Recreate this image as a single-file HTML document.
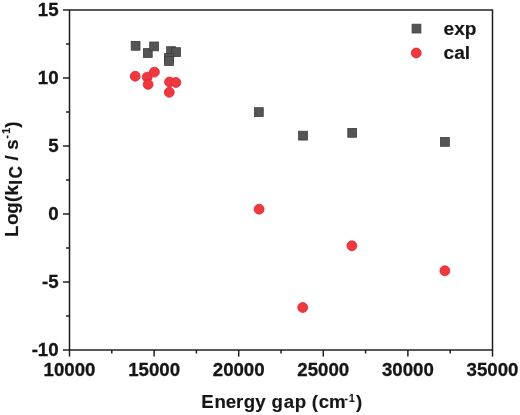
<!DOCTYPE html>
<html><head><meta charset="utf-8"><title>plot</title>
<style>
html,body{margin:0;padding:0;background:#fff;}
svg{display:block;}
text{font-family:"Liberation Sans",Arial,sans-serif;font-weight:bold;fill:#141414;}
.t{stroke:#141414;stroke-width:0.15px;}
.k{stroke:#141414;stroke-width:0.3px;}
</style></head><body>
<svg width="520" height="415" viewBox="0 0 520 415">
<defs><filter id="soft" x="-2%" y="-2%" width="104%" height="104%"><feGaussianBlur stdDeviation="0.4"/></filter></defs>
<rect width="520" height="415" fill="#fff"/>
<g filter="url(#soft)">
<g stroke="#1a1a1a" stroke-width="1.45" fill="none" stroke-linecap="butt">
<rect x="69.5" y="10.0" width="423.0" height="340.0"/>
<line x1="69.50" y1="350.0" x2="69.50" y2="356.6"/>
<line x1="111.80" y1="350.0" x2="111.80" y2="353.5"/>
<line x1="154.10" y1="350.0" x2="154.10" y2="356.6"/>
<line x1="196.40" y1="350.0" x2="196.40" y2="353.5"/>
<line x1="238.70" y1="350.0" x2="238.70" y2="356.6"/>
<line x1="281.00" y1="350.0" x2="281.00" y2="353.5"/>
<line x1="323.30" y1="350.0" x2="323.30" y2="356.6"/>
<line x1="365.60" y1="350.0" x2="365.60" y2="353.5"/>
<line x1="407.90" y1="350.0" x2="407.90" y2="356.6"/>
<line x1="450.20" y1="350.0" x2="450.20" y2="353.5"/>
<line x1="492.50" y1="350.0" x2="492.50" y2="356.6"/>
<line x1="69.5" y1="10.00" x2="62.9" y2="10.00"/>
<line x1="69.5" y1="44.00" x2="66.0" y2="44.00"/>
<line x1="69.5" y1="78.00" x2="62.9" y2="78.00"/>
<line x1="69.5" y1="112.00" x2="66.0" y2="112.00"/>
<line x1="69.5" y1="146.00" x2="62.9" y2="146.00"/>
<line x1="69.5" y1="180.00" x2="66.0" y2="180.00"/>
<line x1="69.5" y1="214.00" x2="62.9" y2="214.00"/>
<line x1="69.5" y1="248.00" x2="66.0" y2="248.00"/>
<line x1="69.5" y1="282.00" x2="62.9" y2="282.00"/>
<line x1="69.5" y1="316.00" x2="66.0" y2="316.00"/>
<line x1="69.5" y1="350.00" x2="62.9" y2="350.00"/>
</g>
<g font-size="18.65" text-anchor="middle" class="k" transform="scale(1,1.03)">
<text x="69.50" y="365.34">10000</text>
<text x="154.10" y="365.34">15000</text>
<text x="238.70" y="365.34">20000</text>
<text x="323.30" y="365.34">25000</text>
<text x="407.90" y="365.34">30000</text>
<text x="492.50" y="365.34">35000</text>
</g>
<g font-size="18.65" text-anchor="end" class="k" transform="scale(1,1.03)">
<text x="58.6" y="15.53">15</text>
<text x="58.6" y="81.55">10</text>
<text x="58.6" y="147.57">5</text>
<text x="58.6" y="213.59">0</text>
<text x="58.6" y="279.61">-5</text>
<text x="58.6" y="345.63">-10</text>
</g>
<text class="t" font-size="18.67" y="408.3"><tspan x="201.25 214.44 225.67 235.95 243.80 255.15 266.00 271.55 283.75 294.80 306.00 311.80 318.65 329.05">Energy gap (cm</tspan><tspan font-size="10.3" x="344.60 348.90" y="402.3">-1</tspan><tspan x="355.90" y="408.3">)</tspan></text>
<text class="t" transform="rotate(-90) scale(1.0,1.03)" font-size="18.67" y="17.28"><tspan x="-236.95 -225.10 -213.70 -201.90 -195.60">Log(k</tspan><tspan font-size="17.3" x="-184.70 -178.60" y="21.46">IC</tspan><tspan x="-167.00 -160.40 -155.00 -149.70" y="17.28"> / s</tspan><tspan font-size="10.3" x="-138.60 -133.80" y="9.90">-1</tspan><tspan x="-127.80" y="17.28">)</tspan></text>
<g fill="#555555" stroke="#3c3c3c" stroke-width="0.8">
<rect x="131.20" y="41.40" width="8.8" height="8.8"/>
<rect x="143.40" y="48.60" width="8.8" height="8.8"/>
<rect x="149.70" y="42.00" width="8.8" height="8.8"/>
<rect x="166.70" y="46.70" width="8.8" height="8.8"/>
<rect x="171.70" y="47.70" width="8.8" height="8.8"/>
<rect x="164.60" y="53.40" width="8.8" height="8.8"/>
<rect x="164.60" y="56.60" width="8.8" height="8.8"/>
<rect x="254.45" y="107.70" width="8.8" height="8.8"/>
<rect x="298.60" y="131.25" width="8.8" height="8.8"/>
<rect x="347.80" y="128.45" width="8.8" height="8.8"/>
<rect x="440.50" y="137.50" width="8.8" height="8.8"/>
<rect x="412.10" y="24.20" width="8.8" height="8.8"/>
</g>
<g fill="#f1373c" stroke="#d92a37" stroke-width="0.8">
<circle cx="135.20" cy="76.20" r="4.95"/>
<circle cx="154.40" cy="72.10" r="4.95"/>
<circle cx="147.20" cy="77.10" r="4.95"/>
<circle cx="148.10" cy="84.40" r="4.95"/>
<circle cx="169.50" cy="82.00" r="4.95"/>
<circle cx="175.90" cy="82.50" r="4.95"/>
<circle cx="169.30" cy="92.30" r="4.95"/>
<circle cx="259.10" cy="209.20" r="4.95"/>
<circle cx="302.70" cy="307.50" r="4.95"/>
<circle cx="351.90" cy="245.80" r="4.95"/>
<circle cx="444.85" cy="270.80" r="4.95"/>
<circle cx="416.25" cy="53" r="4.95"/>
</g>
<text class="t" x="443.6" y="34.6" font-size="19.1">exp</text>
<text class="t" x="443.6" y="59.0" font-size="19.1">cal</text>
</g>
</svg>
</body></html>
